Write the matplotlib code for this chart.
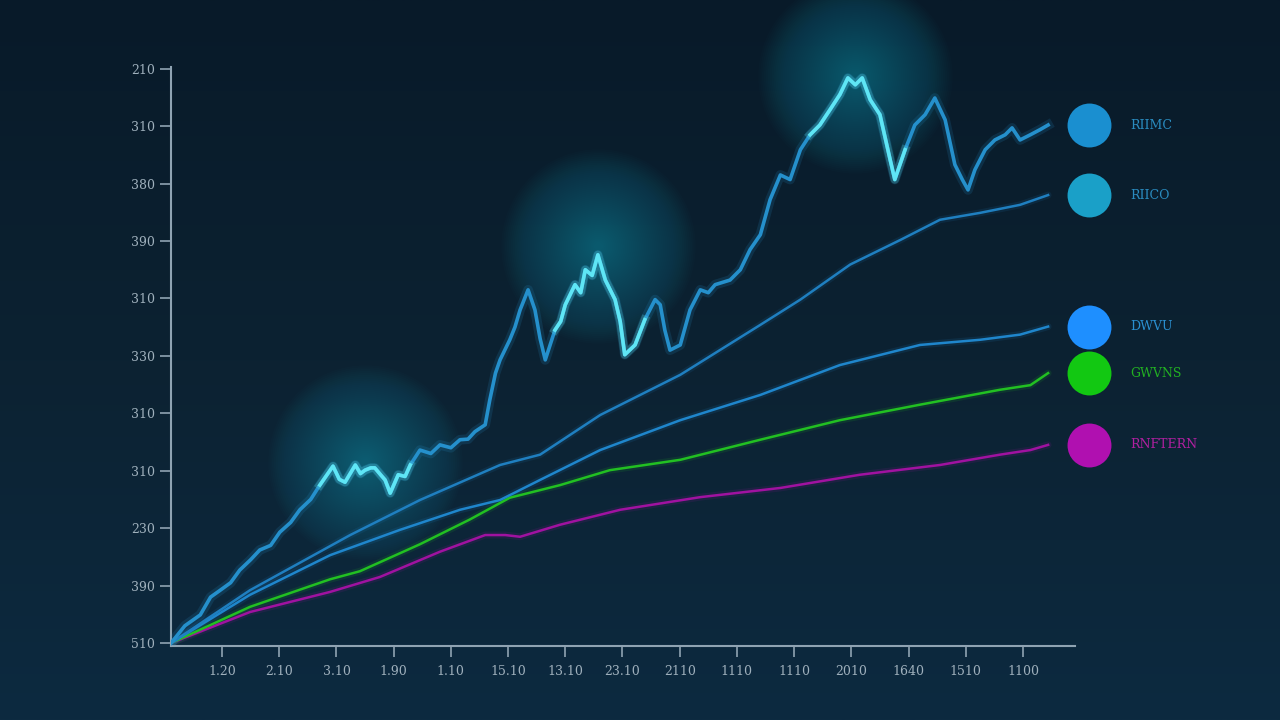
import numpy as np
import matplotlib
matplotlib.use("Agg")
import matplotlib.pyplot as plt
from matplotlib.colors import LinearSegmentedColormap

# tick labels as printed on the chart
y_labels = ["510", "390", "230", "310", "310", "330", "310", "390", "380", "310", "210"]
x_labels = ["1.20", "2.10", "3.10", "1.90", "1.10", "15.10", "13.10", "23.10", "2110",
            "1110", "1110", "2010", "1640", "1510", "1100"]
legend_labels = ["RIIMC", "RIICO", "DWVU", "GWVNS", "RNFTERN"]

# jagged top series
s1_x = [0.11, 0.35, 0.62, 0.80, 0.97, 1.15, 1.31, 1.50, 1.66, 1.85, 2.01, 2.20, 2.36, 2.55,
        2.71, 2.94, 3.05, 3.15, 3.33, 3.42, 3.50, 3.60, 3.67, 3.78, 3.85, 3.94, 4.08, 4.20,
        4.29, 4.46, 4.65, 4.81, 5.00, 5.16, 5.30, 5.42, 5.60, 5.68, 5.78, 5.86, 6.03, 6.12,
        6.21, 6.35, 6.47, 6.56, 6.65, 6.82, 6.92, 7.00, 7.17, 7.27, 7.35, 7.47, 7.57, 7.70,
        7.87, 7.96, 8.04, 8.22, 8.39, 8.57, 8.66, 8.74, 8.83, 9.01, 9.18, 9.36, 9.50, 9.62,
        9.88, 10.06, 10.23, 10.41, 10.58, 10.76, 10.93, 11.11, 11.28, 11.45, 11.63, 11.80,
        11.94, 12.07, 12.19, 12.33, 12.50, 12.68, 12.76, 12.94, 13.11, 13.29, 13.46, 13.64,
        13.81, 13.94, 14.04, 14.16, 14.34, 14.51, 14.69, 14.81, 14.95, 15.13, 15.30, 15.44]
s1_y = [0.00, 0.30, 0.49, 0.80, 0.92, 1.05, 1.27, 1.45, 1.62, 1.70, 1.93, 2.10, 2.32, 2.50,
        2.75, 3.08, 2.85, 2.80, 3.10, 2.95, 3.01, 3.05, 3.05, 2.92, 2.84, 2.61, 2.93, 2.90,
        3.10, 3.36, 3.30, 3.45, 3.40, 3.54, 3.55, 3.68, 3.80, 4.23, 4.70, 4.93, 5.28, 5.50,
        5.80, 6.15, 5.80, 5.30, 4.93, 5.45, 5.60, 5.89, 6.24, 6.10, 6.50, 6.40, 6.76, 6.32,
        5.98, 5.60, 5.02, 5.19, 5.63, 5.98, 5.89, 5.45, 5.10, 5.19, 5.80, 6.15, 6.10, 6.24,
        6.32, 6.50, 6.85, 7.11, 7.72, 8.15, 8.07, 8.59, 8.85, 9.02, 9.29, 9.55,
        9.84, 9.72, 9.84, 9.46, 9.20, 8.41, 8.07, 8.59, 9.02, 9.20, 9.49, 9.11,
        8.33, 8.07, 7.89, 8.24, 8.59, 8.76, 8.85, 8.97, 8.76, 8.85, 8.94, 9.02]

s2_x = [0.11, 1.49, 3.24, 4.46, 5.86, 6.56, 7.61, 9.01, 10.41, 11.11, 11.98, 12.86, 13.55, 14.25, 14.95, 15.44]
s2_y = [0.00, 0.92, 1.88, 2.49, 3.10, 3.28, 3.97, 4.67, 5.54, 5.98, 6.59, 7.02, 7.37, 7.49, 7.63, 7.80]

s3_x = [0.11, 1.49, 2.89, 4.11, 5.16, 5.86, 6.56, 7.61, 9.01, 10.41, 11.80, 13.20, 14.25, 14.95, 15.44]
s3_y = [0.00, 0.84, 1.53, 1.97, 2.32, 2.49, 2.84, 3.36, 3.88, 4.32, 4.84, 5.19, 5.28, 5.37, 5.51]

s4_x = [0.11, 1.49, 2.89, 3.41, 4.46, 5.33, 6.03, 6.91, 7.78, 9.01, 10.41, 11.80, 13.20, 14.60, 15.13, 15.44]
s4_y = [0.00, 0.63, 1.11, 1.25, 1.72, 2.15, 2.53, 2.75, 3.01, 3.19, 3.54, 3.88, 4.15, 4.41, 4.49, 4.70]

s5_x = [0.11, 1.49, 2.89, 3.76, 4.81, 5.60, 5.95, 6.21, 6.91, 7.96, 9.36, 10.76, 12.15, 13.55, 14.60, 15.13, 15.44]
s5_y = [0.00, 0.54, 0.89, 1.15, 1.59, 1.88, 1.88, 1.85, 2.06, 2.32, 2.54, 2.70, 2.93, 3.10, 3.28, 3.36, 3.45]

line_colors = ["#2a95d2", "#1f7fc0", "#1f86cc", "#22c022", "#a012a0"]
dot_colors = ["#1a8fd0", "#1aa0c8", "#1e8fff", "#12c812", "#b010b0"]
text_colors = ["#2a8cc0", "#2a8cc0", "#2a8fd0", "#22b022", "#b020a0"]
glow_idx = [20, 54, 83]   # points of s1 with the halo

fig = plt.figure(figsize=(12.8, 7.2), dpi=100)

# background gradient
bg = fig.add_axes([0, 0, 1, 1])
bg.axis("off")
grad = np.linspace(0, 1, 256).reshape(-1, 1) * np.ones((1, 2))
cmap = LinearSegmentedColormap.from_list("bg", ["#081a29", "#0c2232", "#0d2a40"])
bg.imshow(grad, aspect="auto", cmap=cmap, extent=[0, 1, 0, 1], origin="upper")

ax = fig.add_axes([171 / 1280, 1 - 646 / 720, (1075 - 171) / 1280, (646 - 67) / 720])
ax.set_facecolor("none")
ax.set_xlim(0.108, 15.91)
ax.set_ylim(-0.052, 10.03)

# halos, soft falloff
for i in glow_idx:
    for r in np.linspace(140, 6, 50):
        ax.scatter(s1_x[i], s1_y[i] + 0.15, s=r ** 2, color="#2fd8f0", alpha=0.013,
                   lw=0, zorder=1, clip_on=False)

series = [(s5_x, s5_y), (s4_x, s4_y), (s3_x, s3_y), (s2_x, s2_y)]
cols = [line_colors[4], line_colors[3], line_colors[2], line_colors[1]]
for (xs, ys), c in zip(series, cols):
    ax.plot(xs, ys, color=c, lw=5, alpha=0.12, solid_capstyle="round", zorder=2)
    ax.plot(xs, ys, color=c, lw=1.8, zorder=3)

ax.plot(s1_x, s1_y, color="#2a9ad8", lw=7, alpha=0.15, zorder=3)
ax.plot(s1_x, s1_y, color="#2590cc", lw=2.6, zorder=4)
x1 = np.array(s1_x)
y1 = np.array(s1_y)
for i in glow_idx:
    m = np.abs(x1 - x1[i]) < 0.9
    ax.plot(x1[m], y1[m], color="#5fe6f5", lw=2.6, zorder=5, clip_on=False)
    ax.plot(x1[m], y1[m], color="#5fe6f5", lw=6, alpha=0.25, zorder=5, clip_on=False)

# legend dots at line ends
ends = [s1_y[-1], s2_y[-1], s3_y[-1], s4_y[-1], s5_y[-1]]
for yv, dc, tc, lab in zip(ends, dot_colors, text_colors, legend_labels):
    ax.scatter(16.16, yv, s=1000, color=dc, lw=0, clip_on=False, zorder=6)
    ax.text(16.87, yv, lab, color=tc, fontsize=9, va="center", ha="left",
            family="DejaVu Serif", clip_on=False)

axis_col = "#8fa3b2"
for side in ["top", "right"]:
    ax.spines[side].set_visible(False)
for side in ["left", "bottom"]:
    ax.spines[side].set_color(axis_col)
    ax.spines[side].set_linewidth(1.5)

ax.set_yticks(range(len(y_labels)))
ax.set_yticklabels(y_labels)
ax.set_xticks(range(1, len(x_labels) + 1))
ax.set_xticklabels(x_labels)
ax.tick_params(colors=axis_col, labelcolor="#9fb0bc", length=8, width=1.2, labelsize=9,
               direction="out")
ax.tick_params(axis="x", pad=6)
for t in ax.get_xticklabels() + ax.get_yticklabels():
    t.set_family("DejaVu Serif")

fig.savefig("out.png", dpi=100, facecolor="#0c2232")
